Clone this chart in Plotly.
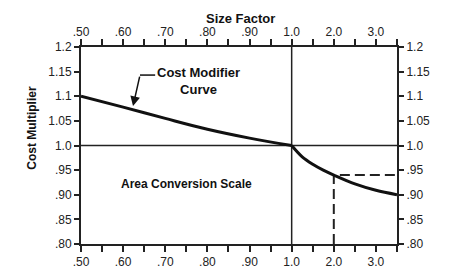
import plotly.graph_objects as go

# ---- data ----
size_factor = [0.5, 0.6, 0.7, 0.8, 0.9, 1.0, 1.25, 1.5, 1.75, 2.0, 2.5, 3.0, 3.5]
cost_mult = [1.100, 1.078, 1.055, 1.033, 1.015, 1.000, 0.977, 0.962, 0.950, 0.940, 0.922, 0.909, 0.900]
x_ticks = [0.5, 0.6, 0.7, 0.8, 0.9, 1.0, 2.0, 3.0]
x_ticklabels = [".50", ".60", ".70", ".80", ".90", "1.0", "2.0", "3.0"]
x_minor = [0.55, 0.65, 0.75, 0.85, 0.95, 1.5, 2.5, 3.5]
y_ticks = [0.80, 0.85, 0.90, 0.95, 1.0, 1.05, 1.1, 1.15, 1.2]
y_ticklabels = [".80", ".85", ".90", ".95", "1.0", "1.05", "1.1", "1.15", "1.2"]
x_range = [0.5, 3.5]
y_range = [0.80, 1.2]
ref_size, ref_cost = 1.0, 1.0
area_point = (2.0, 0.94)


def tx(v):
    # piecewise size-factor scale: 0.1 steps below 1.0, 1.0 steps above
    return (v - 0.5) / 0.1 if v <= 1.0 else 5.0 + (v - 1.0)


tick_font = dict(family="Liberation Sans Narrow, Arial Narrow, sans-serif", size=12, color="#222")
bold = "Liberation Sans, Arial, sans-serif"

fig = go.Figure()

# reference lines
fig.add_trace(go.Scatter(x=[tx(ref_size), tx(ref_size)], y=y_range, mode="lines",
                         line=dict(color="#222", width=1.5), hoverinfo="skip"))
fig.add_trace(go.Scatter(x=[tx(x_range[0]), tx(x_range[1])], y=[ref_cost, ref_cost], mode="lines",
                         line=dict(color="#222", width=1.5), hoverinfo="skip"))
# dashed conversion lines
fig.add_trace(go.Scatter(x=[tx(area_point[0]), tx(area_point[0]), tx(x_range[1])],
                         y=[y_range[0], area_point[1], area_point[1]], mode="lines",
                         line=dict(color="#222", width=2, dash="10px,5px"), hoverinfo="skip"))
# curve: two smooth segments meeting with a kink at size factor 1.0
k = size_factor.index(ref_size)
for seg_x, seg_y in [(size_factor[:k + 1], cost_mult[:k + 1]), (size_factor[k:], cost_mult[k:])]:
    fig.add_trace(go.Scatter(x=[tx(v) for v in seg_x], y=seg_y, mode="lines",
                             line=dict(color="#111", width=3, shape="spline", smoothing=1.0)))

rng = [tx(x_range[0]), tx(x_range[1])]
common_x = dict(range=rng, tickmode="array", tickvals=[tx(v) for v in x_ticks],
                ticktext=x_ticklabels, ticks="outside", ticklen=6, tickwidth=1.5,
                tickcolor="#222", showline=True, linewidth=2, linecolor="#222",
                showgrid=False, zeroline=False, tickfont=tick_font,
                minor=dict(tickvals=[tx(v) for v in x_minor], ticks="outside",
                           ticklen=6, tickwidth=1.5, tickcolor="#222"))
common_y = dict(range=y_range, tickmode="array", tickvals=y_ticks, ticktext=y_ticklabels,
                ticks="outside", ticklen=5, tickwidth=1.5, tickcolor="#222",
                showline=True, linewidth=2, linecolor="#222", showgrid=False,
                zeroline=False, tickfont=tick_font)

fig.update_layout(
    width=463, height=280,
    margin=dict(l=81, r=66, t=47, b=36),
    paper_bgcolor="white", plot_bgcolor="white",
    showlegend=False,
    xaxis=dict(**common_x),
    xaxis2=dict(**common_x, overlaying="x", side="top", anchor="y"),
    yaxis=dict(**common_y),
    yaxis2=dict(**common_y, overlaying="y", side="right", anchor="x"),
)
try:
    fig.layout.xaxis2.ticklabelstandoff = -2
except Exception:
    pass
# dummy trace to activate secondary axes
fig.add_trace(go.Scatter(x=[None], y=[None], xaxis="x2", yaxis="y2", hoverinfo="skip"))

fig.add_annotation(text="<b>Size Factor</b>", xref="paper", yref="paper", x=0.505, y=1.0,
                   yanchor="middle", yshift=29, showarrow=False,
                   font=dict(family=bold, size=13, color="#111"))
fig.add_annotation(text="<b>Cost Multiplier</b>", xref="paper", yref="paper", x=0, y=0.59,
                   xshift=-49, xanchor="center", textangle=-90, showarrow=False,
                   font=dict(family=bold, size=12, color="#111"))
fig.add_annotation(text="<b>Cost Modifier<br>Curve</b>", xref="x", yref="y", x=2.8, y=1.13,
                   showarrow=False, font=dict(family=bold, size=13, color="#111"))
fig.add_annotation(text="<b>Area Conversion Scale</b>", xref="x", yref="y", x=2.5, y=0.922,
                   showarrow=False, font=dict(family=bold, size=12, color="#111"))
# bent leader line with arrow
fig.add_shape(type="line", xref="x", yref="y", x0=1.76, y0=1.143, x1=1.40, y1=1.143,
              line=dict(color="#111", width=1.5))
fig.add_annotation(xref="x", yref="y", x=1.235, y=1.080, ax=1.40, ay=1.143,
                   axref="x", ayref="y", text="", showarrow=True, arrowhead=2,
                   arrowsize=1.3, arrowwidth=1.5, arrowcolor="#111")

fig.write_html("out.html")
